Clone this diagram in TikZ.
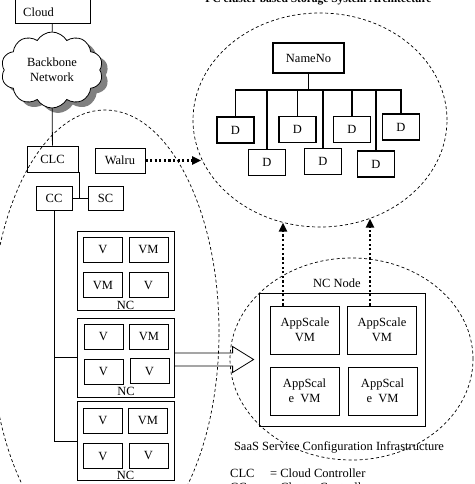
\documentclass[tikz,border=0pt]{standalone}
\usepackage{fontspec}
\setmainfont{Liberation Serif}
\usepackage{tikz}
\usetikzlibrary{arrows.meta}
\usetikzlibrary{positioning}
\usetikzlibrary{shapes.geometric,shapes.symbols}
\usetikzlibrary{shadows}
\usetikzlibrary{calc}

\begin{document}
\begin{tikzpicture}[line join=miter,x=1pt,y=-1pt,
  every node/.style={font=\fontsize{12.5}{15}\selectfont},
  box/.style={draw,line width=.8pt,inner sep=0pt},
  vmbox/.style={box,minimum width=39,minimum height=25},
  ncbox/.style={box,minimum width=97,minimum height=79},
  appbox/.style={box,minimum width=69,minimum height=48,align=center},
  dbox/.style={draw,line width=1.8pt,inner sep=0pt,minimum width=37,minimum height=26},
  treeline/.style={line width=1.8pt},
  region/.style={ellipse,draw,dash pattern=on 3pt off 2.5pt,line width=.7pt,inner sep=0pt},
  dotarrow/.style={line width=2.2pt,dash pattern=on 2.2pt off 2.4pt,-{Triangle[length=9pt,width=8pt]}}]
%  \draw[step=10,gray,very thin] (0,0) grid (474,484);

\useasboundingbox (0,0) rectangle (474,484);

% dashed regions
\node[region,minimum width=228,minimum height=444] (euca) at (105,332) {};
\node[region,minimum width=254,minimum height=214] (storage) at (320,120) {};
\node[region,minimum width=243,minimum height=202] (saas) at (351.5,359) {};

\node[font=\bfseries\fontsize{11.5}{13}\selectfont,anchor=base] (title) at (318.5,3) {PC cluster based Storage System Architecture};

% cloud side
\node[box,minimum width=75,minimum height=45] (cloudbox) at (52.5,0.5) {};
\node[anchor=base west,inner sep=0pt] (cloudtxt) at (23,17) {Cloud};
\node[cloud,draw,line width=.8pt,fill=white,cloud puffs=10,cloud puff arc=120,aspect=1.35,
      minimum width=102,minimum height=76,inner sep=0pt,align=center,
      drop shadow={shadow xshift=6pt,shadow yshift=-5pt,fill=black!50,opacity=1}] (backbone) at (52,70) {Backbone\\Network};

\node[box,minimum width=51,minimum height=26] (clc) at (52.5,159) {CLC};
\node[box,minimum width=50,minimum height=25] (walru) at (120,160.5) {Walru};
\node[box,minimum width=36,minimum height=24] (cc) at (54,198) {CC};
\node[box,minimum width=35,minimum height=24] (sc) at (105.5,198) {SC};
\coordinate (ccsc) at (79,198);

\draw[line width=.8pt] (cloudbox) -- (backbone);
\draw[line width=.8pt] (backbone) -- (clc);
\draw[line width=.8pt] (cc) -- (sc);
\draw[line width=.8pt] (clc.south -| ccsc) -- (ccsc);

% node controllers
\node[ncbox] (nc1) at (125.5,271) {};
\node[vmbox] (nc1a) at (103,250) {V};
\node[vmbox] (nc1b) at (148.5,250) {VM};
\node[vmbox] (nc1c) at (103,285) {VM};
\node[vmbox] (nc1d) at (148.5,285) {V};
\node[anchor=base,inner sep=0pt,yshift=1.5pt] (nc1txt) at (nc1.south) {NC};

\node[ncbox] (nc2) at (126,357.5) {};
\node[vmbox] (nc2a) at (103.5,336.5) {V};
\node[vmbox] (nc2b) at (149,336.5) {VM};
\node[vmbox] (nc2c) at (103.5,371.5) {V};
\node[vmbox] (nc2d) at (149.5,371) {V};
\node[anchor=base,inner sep=0pt,yshift=1.5pt] (nc2txt) at (nc2.south) {NC};

\node[ncbox] (nc3) at (125.5,441) {};
\node[vmbox] (nc3a) at (103,420.5) {V};
\node[vmbox] (nc3b) at (148,420.5) {VM};
\node[vmbox] (nc3c) at (103,456) {V};
\node[vmbox] (nc3d) at (148.5,455.5) {V};
\node[anchor=base,inner sep=0pt,yshift=1.5pt] (nc3txt) at (nc3.south) {NC};

\draw[line width=.8pt] (cc.south) |- (nc3.west);
\draw[line width=.8pt] (cc.south |- nc2.west) -- (nc2.west);

% NC node with appscale
\node[box,minimum width=166,minimum height=133] (ncnode) at (342,359.5) {};
\node[anchor=base,inner sep=0pt] (ncnodetxt) at (337,287) {NC Node};
\node[appbox] (app1) at (305,330) {AppScale\\VM};
\node[appbox] (app2) at (382,330) {AppScale\\VM};
\node[appbox] (app3) at (304.5,391) {AppScal\\e\ \ VM};
\node[appbox] (app4) at (382.5,391) {AppScal\\e\ \ VM};

\coordinate (tip) at ([xshift=-5pt]ncnode.west);
\draw[line width=.8pt] ($(tip)+(-79,-6.5)$) -- ++(58,0) -- ++(0,-6.5) -- (tip) -- ++(-21,13) -- ++(0,-6.5) -- ++(-58,0);

% storage tree
\node[dbox,minimum width=71,minimum height=30] (namenode) at (308.5,58) {NameNo};
\node[dbox] (d1) at (235.5,130) {D};
\node[dbox] (d2) at (267,162.5) {D};
\node[dbox] (d3) at (297.5,129.5) {D};
\node[dbox] (d4) at (323,161.5) {D};
\node[dbox] (d5) at (352,129.5) {D};
\node[dbox] (d6) at (376,164) {D};
\node[dbox] (d7) at (401,127) {D};
\coordinate (bus) at (308.5,90);

\draw[treeline] (namenode) -- (bus);
\draw[treeline] (d1) |- (bus);
\draw[treeline] (d2) |- (bus);
\draw[treeline] (d3) |- (bus);
\draw[treeline] (d4) |- (bus);
\draw[treeline] (d5) |- (bus);
\draw[treeline] (d6) |- (bus);
\draw[treeline] (d7) |- (bus);

% dotted links
\coordinate (up1) at ([xshift=-22pt]app1.north);
\coordinate (up2) at ([xshift=-12pt]app2.north);
\draw[dotarrow] (walru.east) -- (walru.east -| storage.198);
\draw[dotarrow] (up1) -- (up1 |- storage.250);
\draw[dotarrow] (up2) -- (up2 |- storage.297);

% captions
\node[anchor=base] (saastxt) at (339,450) {SaaS Service Configuration Infrastructure};
\node[anchor=base west,inner sep=0pt] (clcabbr) at (230,477) {CLC};
\node[anchor=base west,inner sep=0pt] (clcname) at (270,477) {= Cloud Controller};
\node[anchor=base west,inner sep=0pt] (ccabbr) at (230,491) {CC};
\node[anchor=base west,inner sep=0pt] (ccname) at (270,491) {= Cluster Controller};

\end{tikzpicture}
\end{document}
